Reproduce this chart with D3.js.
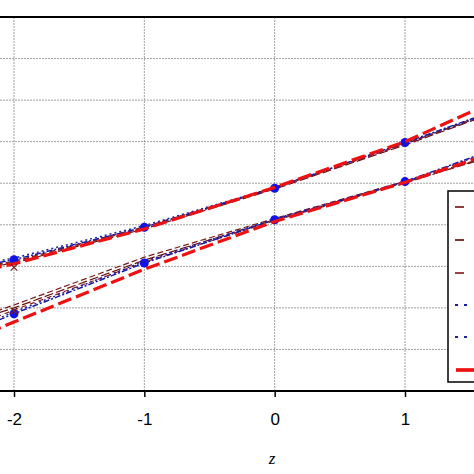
<!DOCTYPE html>
<html><head><meta charset="utf-8">
<script src="https://cdn.jsdelivr.net/npm/d3@7"></script>
<style>body{margin:0;background:#fff}</style></head>
<body><svg id="c" width="474" height="474"></svg>
<script>
const zTicks = [-2, -1, 0, 1];
const zVals = [-2.2, -2, -1, 0, 1, 1.6];
const s1Up = [3.02, 3.12, 3.95, 4.9, 5.95, 6.62];
const s1Lo = [1.85, 2.07, 3.22, 4.15, 5.05, 5.6];
const s2Up = [2.98, 3.08, 3.9, 4.86, 5.92, 6.6];
const s2Lo = [1.8, 2.0, 3.15, 4.12, 5.02, 5.58];
const s3Up = [3.0, 3.1, 3.93, 4.88, 5.94, 6.65];
const s3Lo = [1.7, 1.95, 3.1, 4.1, 5.0, 5.6];
const s4Up = [3.05, 3.16, 3.94, 4.88, 5.98, 6.65];
const s4Lo = [1.6, 1.86, 3.08, 4.12, 5.04, 5.72];
const s5Up = [3.08, 3.2, 3.98, 4.9, 5.96, 6.62];
const s5Lo = [1.65, 1.9, 3.12, 4.14, 5.03, 5.7];
const s6Up = [2.93, 3.06, 3.9, 4.9, 6.0, 6.85];
const s6Lo = [1.4, 1.66, 2.93, 4.08, 5.02, 5.65];

const svg = d3.select("#c");
const x = d3.scaleLinear().domain([-2, 1]).range([14, 405]);
const y = d3.scaleLinear().domain([0, 9]).range([391, 17]);
const g = svg.append("g");
g.selectAll(".gx").data(zTicks).enter().append("line")
 .attr("x1", d => x(d)).attr("x2", d => x(d)).attr("y1", 17).attr("y2", 391)
 .attr("stroke", "#777").attr("stroke-width", 0.7).attr("stroke-dasharray", "2,1");
g.selectAll(".gy").data(d3.range(1, 9)).enter().append("line")
 .attr("x1", 0).attr("x2", 474).attr("y1", d => y(d)).attr("y2", d => y(d))
 .attr("stroke", "#777").attr("stroke-width", 0.7).attr("stroke-dasharray", "2,1");
g.append("line").attr("x1", 0).attr("x2", 474).attr("y1", 17).attr("y2", 17).attr("stroke", "#000").attr("stroke-width", 2);
const ax = svg.append("g").attr("transform", "translate(0,391)")
 .call(d3.axisBottom(x).tickValues(zTicks).tickSize(6).tickSizeOuter(0).tickFormat(d => String(d)));
ax.select(".domain").attr("d", "M0,0H474").attr("stroke-width", 2);
ax.selectAll(".tick line").attr("stroke-width", 1.5);
ax.selectAll("text").style("font-family", "'Liberation Sans', Arial").style("font-size", "17px").attr("dy", "1.45em").attr("fill", "#000");
svg.append("text").attr("x", 272).attr("y", 464).attr("text-anchor", "middle")
 .style("font-family", "'Liberation Serif', 'Times New Roman'").style("font-style", "italic").style("font-size", "17px").text("z");

const styles = [
 {up: s1Up, lo: s1Lo, c: "#7a1a1a", w: 1.2, d: "6,3"},
 {up: s2Up, lo: s2Lo, c: "#6a1010", w: 1.2, d: "9,3"},
 {up: s3Up, lo: s3Lo, c: "#8b2222", w: 1.2, d: "5,4"},
 {up: s4Up, lo: s4Lo, c: "#1a1aaa", w: 1.5, d: "6,2,2,2", m: true},
 {up: s5Up, lo: s5Lo, c: "#22229a", w: 1.5, d: "2,3"},
 {up: s6Up, lo: s6Lo, c: "#ee1111", w: 3.2, d: "14,5"}
];
const line = d3.line().x((d, i) => x(zVals[i])).y(d => y(d));
styles.forEach(s => {
 [s.up, s.lo].forEach(arr => {
  g.append("path").attr("d", line(arr)).attr("fill", "none").attr("stroke", s.c)
   .attr("stroke-width", s.w).attr("stroke-dasharray", s.d);
  if (s.m) {
   g.selectAll(null).data(arr.filter((v, i) => zTicks.includes(zVals[i]))).enter()
    .append("circle").attr("cx", (d, i) => x(zTicks[i])).attr("cy", d => y(d)).attr("r", 4.5).attr("fill", "#1111ee");
  }
 });
});
[s1Lo[1], s1Up[1]].forEach(v => {
 g.append("path").attr("d", d3.symbol(d3.symbolX, 30)()).attr("transform", `translate(${x(-2)},${y(v)+6})`)
  .attr("stroke", "#7a1a1a").attr("stroke-width", 1.2);
});
const lg = svg.append("g");
lg.append("rect").attr("x", 448).attr("y", 191).attr("width", 40).attr("height", 191)
 .attr("fill", "#fff").attr("stroke", "#000").attr("stroke-width", 1.5);
const ly = [207, 240, 273, 305, 337, 370];
styles.forEach((s, i) => {
 lg.append("line").attr("x1", i === 5 ? 456 : 455).attr("x2", i === 5 ? 474 : (i >= 3 ? 470 : 464)).attr("y1", ly[i]).attr("y2", ly[i])
  .attr("stroke", s.c).attr("stroke-width", s.w + 0.5).attr("stroke-dasharray", i === 3 || i === 4 ? "3,6" : "none");
});
</script></body></html>
